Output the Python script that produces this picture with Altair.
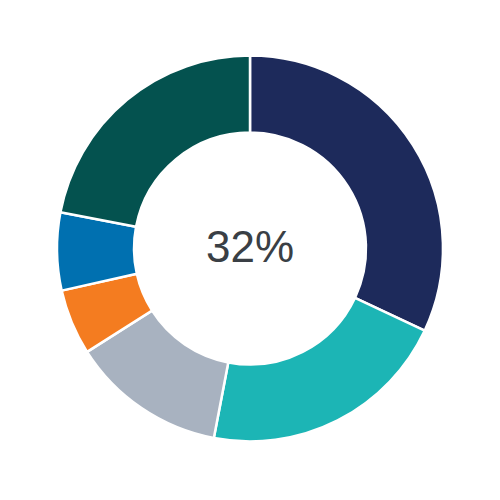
import altair as alt
import pandas as pd

categories = ["A", "B", "C", "D", "E", "F"]
values = [32, 21, 13, 5.5, 6.5, 22]
colors = ["#1d2a5b", "#1cb5b5", "#a8b2c0", "#f47c20", "#0070b0", "#04524f"]
center_label = ["32%"]

df = pd.DataFrame({"cat": categories, "val": values, "ord": list(range(len(categories)))})

W, H = 484, 481

arcs = alt.Chart(df).mark_arc(innerRadius=116, outerRadius=193, stroke="white", strokeWidth=2.5).encode(
    theta=alt.Theta("val:Q", stack=True),
    order=alt.Order("ord:Q"),
    color=alt.Color("cat:N", scale=alt.Scale(domain=categories, range=colors), legend=None),
)

text = alt.Chart(pd.DataFrame({"t": center_label})).mark_text(
    font="Liberation Sans", fontSize=44, color="#3a3f45", align="center", baseline="middle"
).encode(
    text="t:N",
    x=alt.value(W / 2),
    y=alt.value(H / 2),
)

chart = alt.layer(arcs, text).properties(width=W, height=H, padding=0, autosize="none").configure_view(stroke=None)
chart.save("out.html", embed_options={"renderer": "svg", "actions": False})
